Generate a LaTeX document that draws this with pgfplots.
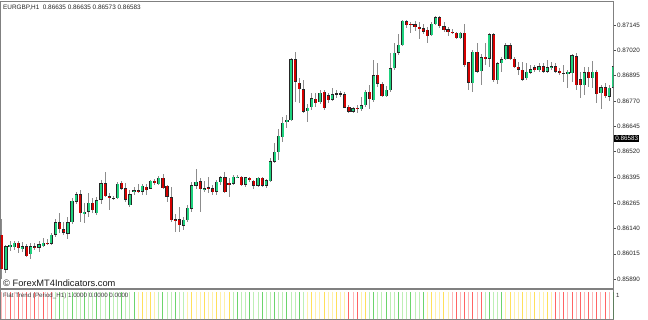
\documentclass[border=0pt]{standalone}
\usepackage{pgfplots}
\pgfplotsset{compat=1.18}
\usepackage{pgfplotstable}
\usepackage{fontspec}
\setmainfont{Liberation Sans}
\definecolor{bull}{HTML}{1ED27E}
\definecolor{bear}{HTML}{D40000}
\definecolor{wick}{HTML}{8C8C8C}
\definecolor{frame}{HTML}{808080}
\definecolor{iR}{HTML}{FF6464}
\definecolor{ir}{HTML}{FFB8B8}
\definecolor{iG}{HTML}{6CD46C}
\definecolor{ig}{HTML}{BDEFB5}
\definecolor{iY}{HTML}{FFE05A}
\definecolor{iy}{HTML}{FFF1A8}
\definecolor{iD}{HTML}{1E7A1E}

% OHLC prices; plotted in points (1e-5) above 0.86 to keep the axis numbers large
\pgfplotstableread{
i o h l c
0 0.86108 0.86185 0.85890 0.85938
1 0.85937 0.86058 0.85918 0.86053
2 0.86050 0.86078 0.86029 0.86061
3 0.86047 0.86078 0.86034 0.86070
4 0.86070 0.86078 0.86017 0.86042
5 0.86038 0.86073 0.86025 0.86053
6 0.86053 0.86067 0.86000 0.86005
7 0.86014 0.86067 0.85992 0.86053
8 0.86053 0.86067 0.86034 0.86043
9 0.86045 0.86078 0.86025 0.86062
10 0.86053 0.86091 0.86050 0.86071
11 0.86070 0.86091 0.86058 0.86063
12 0.86063 0.86116 0.86058 0.86108
13 0.86108 0.86190 0.86099 0.86170
14 0.86170 0.86215 0.86116 0.86136
15 0.86136 0.86173 0.86108 0.86119
16 0.86116 0.86198 0.86091 0.86173
17 0.86173 0.86289 0.86165 0.86277
18 0.86272 0.86322 0.86261 0.86309
19 0.86309 0.86330 0.86173 0.86215
20 0.86211 0.86264 0.86165 0.86223
21 0.86223 0.86314 0.86198 0.86267
22 0.86267 0.86289 0.86215 0.86231
23 0.86215 0.86297 0.86206 0.86281
24 0.86281 0.86379 0.86264 0.86363
25 0.86363 0.86420 0.86297 0.86300
26 0.86300 0.86314 0.86231 0.86290
27 0.86289 0.86300 0.86281 0.86292
28 0.86289 0.86371 0.86284 0.86363
29 0.86366 0.86374 0.86330 0.86338
30 0.86341 0.86363 0.86272 0.86284
31 0.86256 0.86330 0.86247 0.86310
32 0.86325 0.86346 0.86305 0.86330
33 0.86330 0.86360 0.86314 0.86325
34 0.86322 0.86363 0.86305 0.86350
35 0.86346 0.86363 0.86305 0.86330
36 0.86338 0.86379 0.86333 0.86376
37 0.86376 0.86383 0.86355 0.86363
38 0.86360 0.86399 0.86355 0.86391
39 0.86391 0.86408 0.86338 0.86341
40 0.86351 0.86358 0.86272 0.86297
41 0.86294 0.86346 0.86173 0.86182
42 0.86187 0.86211 0.86124 0.86182
43 0.86187 0.86247 0.86124 0.86157
44 0.86154 0.86198 0.86132 0.86182
45 0.86182 0.86256 0.86173 0.86244
46 0.86240 0.86371 0.86223 0.86355
47 0.86351 0.86434 0.86338 0.86371
48 0.86374 0.86388 0.86223 0.86335
49 0.86330 0.86374 0.86322 0.86341
50 0.86343 0.86396 0.86314 0.86338
51 0.86338 0.86355 0.86305 0.86319
52 0.86322 0.86379 0.86305 0.86371
53 0.86368 0.86401 0.86355 0.86393
54 0.86393 0.86417 0.86314 0.86319
55 0.86368 0.86388 0.86297 0.86358
56 0.86363 0.86404 0.86355 0.86396
57 0.86391 0.86404 0.86388 0.86396
58 0.86396 0.86401 0.86351 0.86355
59 0.86355 0.86396 0.86346 0.86393
60 0.86391 0.86396 0.86371 0.86379
61 0.86376 0.86379 0.86338 0.86351
62 0.86351 0.86396 0.86346 0.86391
63 0.86391 0.86396 0.86346 0.86351
64 0.86351 0.86388 0.86341 0.86379
65 0.86374 0.86487 0.86368 0.86473
66 0.86470 0.86561 0.86462 0.86519
67 0.86516 0.86635 0.86478 0.86598
68 0.86593 0.86692 0.86569 0.86664
69 0.86664 0.86700 0.86635 0.86676
70 0.86676 0.86983 0.86671 0.86977
71 0.86977 0.87013 0.86766 0.86865
72 0.86860 0.86882 0.86758 0.86829
73 0.86829 0.86873 0.86709 0.86717
74 0.86720 0.86758 0.86667 0.86738
75 0.86738 0.86809 0.86725 0.86783
76 0.86783 0.86808 0.86741 0.86761
77 0.86766 0.86824 0.86758 0.86811
78 0.86816 0.86824 0.86729 0.86734
79 0.86799 0.86811 0.86758 0.86775
80 0.86778 0.86832 0.86771 0.86804
81 0.86804 0.86824 0.86783 0.86808
82 0.86808 0.86820 0.86788 0.86804
83 0.86804 0.86816 0.86734 0.86738
84 0.86741 0.86750 0.86712 0.86717
85 0.86717 0.86741 0.86709 0.86734
86 0.86738 0.86750 0.86709 0.86732
87 0.86730 0.86788 0.86722 0.86750
88 0.86750 0.86824 0.86741 0.86816
89 0.86816 0.86849 0.86734 0.86778
90 0.86775 0.86972 0.86766 0.86898
91 0.86898 0.86956 0.86840 0.86854
92 0.86854 0.86865 0.86791 0.86794
93 0.86794 0.86844 0.86788 0.86824
94 0.86824 0.87005 0.86816 0.86931
95 0.86931 0.87055 0.86923 0.87008
96 0.87008 0.87101 0.86997 0.87046
97 0.87046 0.87170 0.87041 0.87165
98 0.87165 0.87173 0.87129 0.87145
99 0.87150 0.87161 0.87104 0.87145
100 0.87150 0.87166 0.87117 0.87134
101 0.87137 0.87161 0.87079 0.87129
102 0.87129 0.87153 0.87101 0.87112
103 0.87124 0.87137 0.87055 0.87091
104 0.87096 0.87161 0.87091 0.87153
105 0.87150 0.87189 0.87145 0.87183
106 0.87183 0.87189 0.87129 0.87140
107 0.87140 0.87161 0.87112 0.87120
108 0.87124 0.87137 0.87091 0.87112
109 0.87112 0.87124 0.87101 0.87107
110 0.87107 0.87112 0.87074 0.87079
111 0.87079 0.87112 0.87074 0.87107
112 0.87107 0.87150 0.86939 0.86947
113 0.86960 0.86964 0.86824 0.86860
114 0.86860 0.87022 0.86816 0.87013
115 0.87013 0.87055 0.86906 0.86914
116 0.86919 0.87005 0.86849 0.86988
117 0.86988 0.87055 0.86947 0.86976
118 0.86980 0.87104 0.86936 0.87101
119 0.87101 0.87104 0.86865 0.86873
120 0.86873 0.86964 0.86854 0.86956
121 0.86956 0.86988 0.86914 0.86976
122 0.86976 0.87058 0.86972 0.87046
123 0.87046 0.87055 0.86972 0.86976
124 0.86980 0.86988 0.86936 0.86939
125 0.86939 0.86964 0.86898 0.86923
126 0.86926 0.86964 0.86870 0.86877
127 0.86882 0.86956 0.86873 0.86914
128 0.86909 0.86947 0.86903 0.86926
129 0.86936 0.86947 0.86914 0.86923
130 0.86923 0.86956 0.86914 0.86942
131 0.86942 0.86956 0.86906 0.86914
132 0.86914 0.86972 0.86909 0.86936
133 0.86936 0.86964 0.86923 0.86942
134 0.86942 0.86956 0.86906 0.86914
135 0.86919 0.86931 0.86898 0.86906
136 0.86909 0.86947 0.86865 0.86906
137 0.86906 0.86923 0.86832 0.86914
138 0.86909 0.87005 0.86865 0.86997
139 0.86992 0.87005 0.86824 0.86849
140 0.86877 0.86914 0.86783 0.86849
141 0.86849 0.86939 0.86799 0.86914
142 0.86914 0.86939 0.86840 0.86882
143 0.86882 0.86969 0.86832 0.86914
144 0.86914 0.86923 0.86758 0.86804
145 0.86808 0.86849 0.86734 0.86837
146 0.86837 0.86857 0.86783 0.86794
147 0.86791 0.86849 0.86771 0.86837
148 0.86837 0.86947 0.86834 0.86942
}\candles

\begin{document}
\begin{tikzpicture}[x=1pt,y=1pt]
\path[fill=white] (0,0) rectangle (648,320);
% indicator panel (bottom)
\begin{axis}[
  at={(0.5pt,0.5pt)}, anchor=south west, scale only axis,
  width=612.8pt, height=30.5pt,
  xmin=-0.315, xmax=147.98, ymin=0, ymax=1.1,
  axis line style={frame, line width=0.9pt},
  xtick=\empty, ytick=\empty, clip=true,
]
\addplot[ycomb, iR, line width=1pt, mark=none] coordinates {(2,1)(4,1)(6,1)(8,1)(10,1)(12,1)(84,1)(86,1)(110,1)(112,1)(114,1)(116,1)(134,1)(136,1)(138,1)(140,1)(142,1)(144,1)(146,1)};
\addplot[ycomb, ir, line width=1pt, mark=none] coordinates {(0,1)(1,1)(3,1)(5,1)(7,1)(9,1)(11,1)(85,1)(109,1)(111,1)(113,1)(115,1)(135,1)(137,1)(139,1)(141,1)(143,1)(145,1)(147,1)};
\addplot[ycomb, iG, line width=1pt, mark=none] coordinates {(14,1)(17,1)(20,1)(23,1)(26,1)(29,1)(32,1)(39,1)(42,1)(57,1)(60,1)(63,1)(66,1)(69,1)(72,1)(90,1)(93,1)(96,1)(99,1)(102,1)(118,1)(121,1)};
\addplot[ycomb, ig, line width=1pt, mark=none] coordinates {(13,1)(15,1)(16,1)(18,1)(19,1)(21,1)(22,1)(24,1)(25,1)(27,1)(28,1)(30,1)(31,1)(38,1)(40,1)(41,1)(43,1)(44,1)(56,1)(58,1)(59,1)(61,1)(62,1)(64,1)(65,1)(67,1)(68,1)(70,1)(71,1)(73,1)(89,1)(91,1)(92,1)(94,1)(95,1)(97,1)(98,1)(100,1)(101,1)(117,1)(119,1)(120,1)};
\addplot[ycomb, iY, line width=1pt, mark=none] coordinates {(34,1)(36,1)(46,1)(49,1)(52,1)(55,1)(75,1)(78,1)(81,1)(88,1)(104,1)(107,1)(123,1)(126,1)(129,1)(132,1)};
\addplot[ycomb, iy, line width=1pt, mark=none] coordinates {(33,1)(35,1)(37,1)(45,1)(47,1)(48,1)(50,1)(51,1)(53,1)(54,1)(74,1)(76,1)(77,1)(79,1)(80,1)(82,1)(83,1)(87,1)(103,1)(105,1)(106,1)(108,1)(122,1)(124,1)(125,1)(127,1)(128,1)(130,1)(131,1)(133,1)};
\addplot[ycomb, iD, line width=1pt, mark=none] coordinates {(148,1)};
\end{axis}

% main price panel; y axis = (price - 0.86) in points of 0.00001
\begin{axis}[
  at={(0.5pt,32pt)}, anchor=south west, scale only axis,
  width=612.8pt, height=287pt,
  xmin=-0.315, xmax=147.98, ymin=-154.1, ymax=1263.6,
  axis line style={frame, line width=0.9pt},
  xtick=\empty,
  ytick={-110,15,140,265,395,520,645,770,895,1020,1145},
  yticklabels={0.85890,0.86015,0.86140,0.86265,0.86395,0.86520,0.86645,0.86770,0.86895,0.87020,0.87145},
  yticklabel pos=right, ytick pos=right, tick align=outside,
  major tick length=2.5pt, tick style={black!70, line width=0.5pt},
  yticklabel style={font=\fontsize{6.3}{7}\selectfont, text=black!85, inner sep=1pt},
  scaled y ticks=false, unbounded coords=discard, clip=true,
]
% wicks
\addplot[draw=none, mark=none, forget plot,
  error bars/.cd, y dir=both, y explicit, error mark=none,
  error bar style={draw=wick, line width=0.9pt, solid}]
  table[x=i, y expr={((\thisrow{h}+\thisrow{l})/2-0.86)*100000}, y error expr={(\thisrow{h}-\thisrow{l})*50000}] {\candles};
% body outlines
\addplot[draw=none, mark=none, forget plot,
  error bars/.cd, y dir=both, y explicit, error mark=none,
  error bar style={draw=black!85, line width=3.2pt, solid}]
  table[x=i, y expr={((\thisrow{o}+\thisrow{c})/2-0.86)*100000}, y error expr={max(abs(\thisrow{c}-\thisrow{o})*50000,1.5)}] {\candles};
% bull bodies
\addplot[draw=none, mark=none, forget plot,
  error bars/.cd, y dir=both, y explicit, error mark=none,
  error bar style={draw=bull, line width=2.0pt, solid}]
  table[x=i, y expr={\thisrow{c}>=\thisrow{o} ? ((\thisrow{o}+\thisrow{c})/2-0.86)*100000 : nan}, y error expr={max(abs(\thisrow{c}-\thisrow{o})*50000-2.2,0)}] {\candles};
% bear bodies
\addplot[draw=none, mark=none, forget plot,
  error bars/.cd, y dir=both, y explicit, error mark=none,
  error bar style={draw=bear, line width=2.0pt, solid}]
  table[x=i, y expr={\thisrow{c}<\thisrow{o} ? ((\thisrow{o}+\thisrow{c})/2-0.86)*100000 : nan}, y error expr={max(abs(\thisrow{c}-\thisrow{o})*50000-2.2,0)}] {\candles};
\end{axis}

\node[anchor=west, font=\fontsize{6.4}{7}\selectfont, text=black!85, inner sep=0pt] at (3,312.5) {EURGBP,H1\ \ 0.86635 0.86635 0.86573 0.86583};
\node[anchor=base west, font=\fontsize{9.3}{10}\selectfont, text=black!90, inner sep=0pt] at (3,33) {© ForexMT4Indicators.com};
\node[anchor=west, font=\fontsize{6.2}{7}\selectfont, text=black!75, inner sep=0pt] at (3,24.5) {Flat Trend (Period\_H1) 1.0000 0.0000 0.0000};
\node[anchor=west, font=\fontsize{6}{7}\selectfont, text=black!85, inner sep=0pt] at (616,25) {1};
\node[anchor=west, fill=black, text=white, font=\fontsize{6.3}{7}\selectfont, inner xsep=1.2pt, inner ysep=1pt] at (614,181.3) {0.86583};
\end{tikzpicture}
\end{document}
